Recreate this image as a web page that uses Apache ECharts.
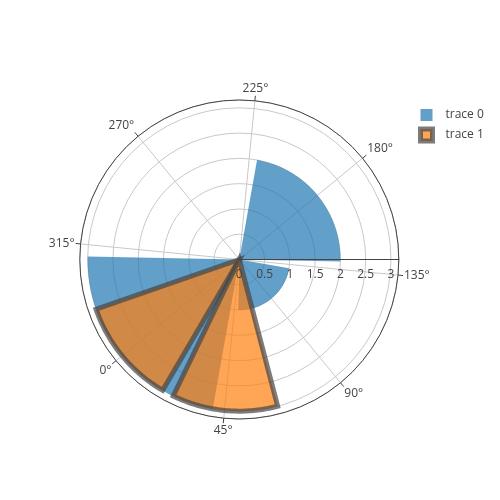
<!DOCTYPE html>
<html>
<head>
<meta charset="utf-8">
<script src="https://cdn.jsdelivr.net/npm/echarts@6/dist/echarts.min.js"></script>
<style>
  html, body { margin: 0; padding: 0; background: #fff; }
  #main { width: 500px; height: 500px; }
</style>
</head>
<body>
<div id="main"></div>
<script>
// trace 0 (blue)
const theta0 = [0, 90, 180];
const r0 = [3, 1, 2];
// trace 1 (orange, thick outline)
const theta1 = [0, 45];
const r1 = [3, 3];
const radialTicks = [0, 0.5, 1, 1.5, 2, 2.5, 3];

const CENTER = [239.3, 259.5];
const RADIUS = 159.5;
const RMAX = 3.155;
const FONT = 'Open Sans';

// plotly-like default width: 90% of smallest spacing
function barWidth(thetas) {
  let d = 360;
  for (let i = 1; i < thetas.length; i++) d = Math.min(d, thetas[i] - thetas[i - 1]);
  return d * 0.9;
}

function makeData(rs, thetas) {
  const w = barWidth(thetas);
  return rs.map((r, i) => [r, thetas[i], w]);
}

function renderWedge(params, api) {
  const r = api.value(0), th = api.value(1), w = api.value(2);
  const pts = [api.coord([0, th])];
  const n = 48;
  for (let i = 0; i <= n; i++) {
    pts.push(api.coord([r, th - w / 2 + w * i / n]));
  }
  return { type: 'polygon', shape: { points: pts }, style: params.wedgeStyle };
}

const chart = echarts.init(document.getElementById('main'));

const blueStyle = { fill: 'rgba(31,119,180,0.7)', stroke: null, lineWidth: 0 };
const orangeStyle = { fill: 'rgba(255,127,14,0.7)', stroke: 'rgba(68,68,68,0.7)', lineWidth: 5 };

chart.setOption({
  animation: false,
  polar: [
    { center: CENTER, radius: RADIUS },
    { center: CENTER, radius: RADIUS }
  ],
  angleAxis: [
    {
      polarIndex: 0, type: 'value', min: 0, max: 360, interval: 45,
      startAngle: 219.4, clockwise: false,
      axisLine: { lineStyle: { color: '#444', width: 1 } },
      axisTick: { show: true, length: 5, lineStyle: { color: '#444' } },
      axisLabel: {
        color: '#444', fontSize: 12, fontFamily: FONT, margin: 6,
        formatter: v => (v === 360 ? '' : v + '°')
      },
      splitLine: { show: true, lineStyle: { color: '#c8c8c8', width: 1 } }
    },
    { polarIndex: 1, type: 'value', min: 0, max: 360, startAngle: 0, show: false }
  ],
  radiusAxis: [
    {
      polarIndex: 0, type: 'value', min: 0, max: RMAX, interval: 0.5,
      axisLine: { show: false }, axisTick: { show: false }, axisLabel: { show: false },
      splitLine: { show: true, lineStyle: { color: '#c8c8c8', width: 1 } }
    },
    {
      polarIndex: 1, type: 'value', min: 0, max: RMAX, interval: 0.5, z: 10,
      axisLine: { show: true, lineStyle: { color: '#444', width: 1 } },
      axisTick: { show: false },
      splitLine: { show: false },
      axisLabel: {
        verticalAlign: 'top', margin: -9,
        color: '#444', fontSize: 12, fontFamily: FONT,
        formatter: v => (radialTicks.some(t => Math.abs(t - v) < 1e-6) ? String(v) : '')
      }
    }
  ],
  legend: {
    orient: 'vertical', left: 413, top: 104, itemWidth: 12, itemHeight: 12, itemGap: 5.5,
    textStyle: { color: '#444', fontSize: 12, fontFamily: FONT, padding: [0, 0, 0, 8] },
    data: [
      { name: 'trace 0', icon: 'rect', itemStyle: { color: blueStyle.fill, borderWidth: 0 } },
      { name: 'trace 1', icon: 'rect', itemStyle: { color: orangeStyle.fill, borderColor: orangeStyle.stroke, borderWidth: 5 } }
    ]
  },
  series: [
    {
      name: 'trace 0', type: 'custom', coordinateSystem: 'polar', polarIndex: 0,
      itemStyle: { color: blueStyle.fill },
      encode: { radius: 0, angle: 1 },
      renderItem: (p, api) => renderWedge(Object.assign(p, { wedgeStyle: blueStyle }), api),
      data: makeData(r0, theta0), z: 2
    },
    {
      name: 'trace 1', type: 'custom', coordinateSystem: 'polar', polarIndex: 0,
      itemStyle: { color: orangeStyle.fill },
      encode: { radius: 0, angle: 1 },
      renderItem: (p, api) => renderWedge(Object.assign(p, { wedgeStyle: orangeStyle }), api),
      data: makeData(r1, theta1), z: 3
    }
  ]
});
</script>
</body>
</html>
